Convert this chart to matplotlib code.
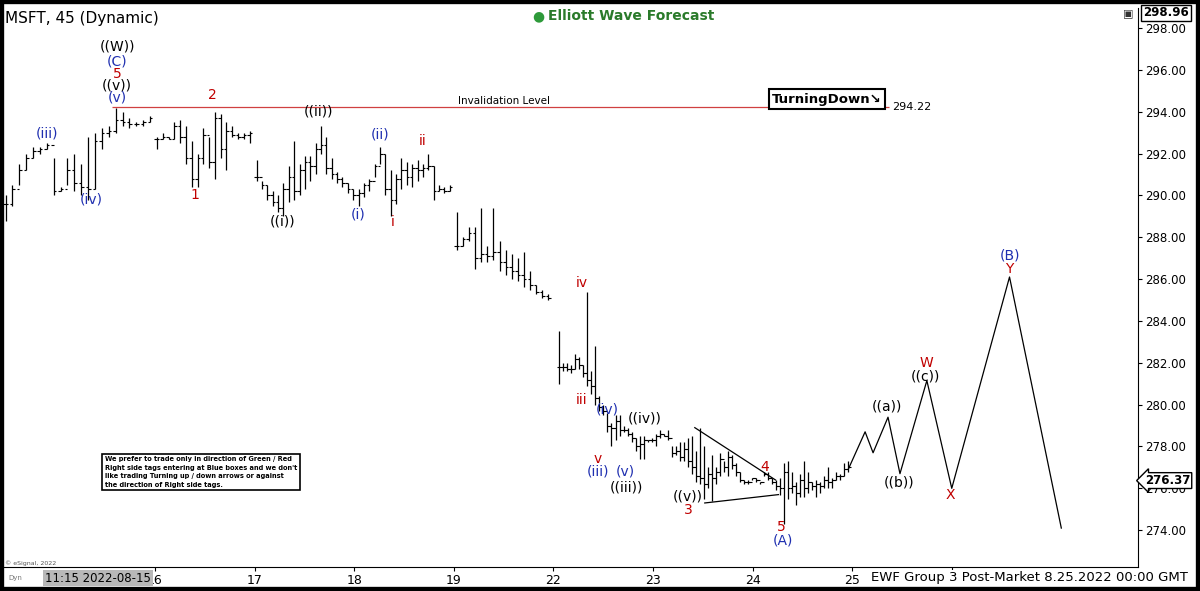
import numpy as np
import matplotlib.pyplot as plt
from matplotlib.patches import Rectangle

# ---- price bars: (low, high, close) per session segment, x in trading-day units (16 Aug = 0)
seg_a = [(288.8, 290.0, 289.6), (289.5, 290.5, 290.3), (290.5, 291.5, 291.2), (291.2, 292.0, 291.8),
         (291.8, 292.3, 292.1), (292.0, 292.3, 292.2), (292.2, 292.5, 292.4), (290.0, 291.8, 290.2),
         (290.2, 290.4, 290.3), (290.5, 291.8, 291.2), (290.2, 292.0, 290.6), (290.0, 291.5, 290.4),
         (289.8, 292.8, 290.3), (290.3, 293.0, 292.6), (292.2, 293.2, 293.0), (292.8, 293.3, 293.1),
         (293.0, 294.2, 293.6), (293.3, 294.0, 293.5), (293.2, 293.7, 293.4), (293.3, 293.5, 293.4),
         (293.3, 293.6, 293.5), (293.5, 293.8, 293.7)]
seg_b = [(292.2, 292.8, 292.7), (292.7, 293.0, 292.8), (292.7, 292.8, 292.7), (292.7, 293.5, 293.3),
         (292.5, 293.6, 292.8), (291.5, 293.3, 291.8), (290.4, 292.6, 290.8), (290.4, 292.0, 291.8),
         (291.5, 293.2, 292.9), (291.3, 292.8, 291.6), (290.8, 294.0, 293.7), (291.8, 293.9, 292.2),
         (291.2, 293.5, 293.1), (292.8, 293.3, 292.9), (292.7, 293.0, 292.8), (292.7, 293.0, 292.9),
         (292.5, 293.1, 293.0)]
seg_c = [(290.7, 291.7, 290.9), (290.3, 290.7, 290.5), (289.8, 290.5, 290.0), (289.5, 290.2, 289.7),
         (289.2, 290.0, 289.4), (289.0, 290.6, 290.3), (289.7, 291.4, 290.9), (289.8, 292.6, 290.2),
         (290.0, 291.5, 291.2), (290.3, 291.9, 291.6), (290.7, 291.9, 291.4), (291.0, 292.5, 292.2),
         (292.0, 293.3, 292.4), (291.0, 292.8, 291.3), (290.8, 291.8, 291.0), (290.6, 291.1, 290.8),
         (290.4, 290.9, 290.6), (290.1, 290.6, 290.3), (289.8, 290.3, 290.0), (289.5, 290.3, 290.1),
         (289.9, 290.6, 290.5), (290.2, 290.8, 290.7), (290.9, 291.5, 291.4), (291.5, 292.3, 292.0),
         (290.0, 292.0, 290.3), (289.0, 291.2, 289.8), (289.6, 291.0, 290.8), (290.3, 291.8, 291.2),
         (290.5, 291.6, 290.9), (290.4, 291.5, 291.3), (290.7, 291.7, 291.2), (290.9, 291.5, 291.3),
         (291.2, 292.0, 291.4), (289.8, 291.4, 290.2), (290.2, 290.5, 290.3), (290.1, 290.4, 290.2),
         (290.2, 290.5, 290.4)]
seg_d = [(287.4, 289.2, 287.6), (287.6, 288.0, 287.9), (287.8, 288.5, 288.2), (286.5, 288.5, 287.0),
         (286.8, 289.4, 287.2), (286.8, 287.6, 287.1), (286.9, 289.4, 287.3), (286.4, 287.8, 286.8),
         (286.2, 287.4, 286.6), (286.0, 287.2, 286.4), (285.9, 287.0, 286.2), (285.6, 287.3, 286.0),
         (285.5, 286.4, 285.7), (285.3, 285.7, 285.4), (285.1, 285.5, 285.2), (285.0, 285.3, 285.1)]
seg_e = [(281.0, 283.5, 281.8), (281.6, 282.0, 281.8), (281.6, 282.0, 281.7), (281.5, 281.9, 281.7),
         (281.7, 282.4, 282.2), (281.7, 282.3, 281.9), (281.3, 281.9, 281.5), (280.9, 285.4, 281.2),
         (280.5, 281.6, 280.9), (280.0, 282.8, 280.3), (279.7, 280.4, 279.9), (279.5, 280.0, 279.7),
         (278.7, 279.6, 279.0), (278.0, 279.1, 278.9), (278.3, 279.5, 279.2), (278.5, 279.5, 278.8),
         (278.7, 279.0, 278.8), (278.5, 278.9, 278.6), (278.2, 278.7, 278.4), (277.8, 278.4, 278.0),
         (277.4, 278.5, 278.1), (277.4, 278.5, 278.3), (278.2, 278.3, 278.3), (278.2, 278.4, 278.3),
         (278.0, 278.6, 278.5), (278.4, 278.8, 278.6), (278.5, 278.6, 278.5), (278.3, 278.8, 278.4),
         (277.5, 278.0, 277.7), (277.6, 278.0, 277.8), (277.3, 278.2, 277.5), (277.3, 278.2, 277.9),
         (277.0, 278.4, 277.3), (276.7, 278.5, 277.0), (276.3, 277.8, 276.6), (276.2, 278.9, 276.5),
         (275.5, 278.0, 276.2), (276.0, 277.0, 276.7), (275.4, 277.6, 276.5), (276.2, 277.0, 276.8),
         (276.6, 277.7, 277.4), (276.8, 277.3, 277.0), (276.6, 277.8, 277.5), (276.9, 277.6, 277.1),
         (276.6, 277.2, 276.8), (276.3, 276.8, 276.4), (276.2, 276.4, 276.3), (276.2, 276.4, 276.3),
         (276.4, 276.5, 276.5), (276.3, 276.5, 276.4), (276.2, 276.3, 276.3), (276.6, 276.8, 276.7),
         (276.4, 276.8, 276.5), (276.2, 276.5, 276.3), (275.9, 276.4, 276.1), (275.7, 276.5, 276.0),
         (274.3, 277.2, 276.8), (275.5, 277.3, 276.0), (275.8, 276.8, 276.1), (275.2, 276.3, 275.8),
         (275.6, 276.7, 276.4), (275.6, 277.3, 276.0), (275.8, 276.8, 276.3), (275.9, 276.3, 276.1),
         (275.6, 276.4, 276.2), (275.8, 276.3, 276.1), (276.0, 276.6, 276.4), (276.0, 277.0, 276.3),
         (276.0, 276.5, 276.4), (276.4, 276.8, 276.6), (276.4, 276.7, 276.6), (276.6, 277.2, 276.9),
         (276.8, 277.3, 277.0)]
segments = [(-1.50, -0.05, seg_a), (0.02, 0.95, seg_b), (1.02, 2.96, seg_c),
            (3.03, 3.95, seg_d), (4.06, 6.96, seg_e)]

# projected path
proj_x = [6.96, 7.13, 7.21, 7.36, 7.48, 7.75, 8.0, 8.58, 9.10]
proj_y = [276.9, 278.7, 277.7, 279.4, 276.7, 281.15, 276.0, 286.1, 274.1]

tri_top = ([5.42, 6.23], [278.9, 276.4])
tri_bot = ([5.52, 6.26], [275.3, 275.7])

invalid_level = 294.22
last_price = 276.37

day_ticks = [0, 1, 2, 3, 4, 5, 6, 7, 8]
day_labels = ['16', '17', '18', '19', '22', '23', '24', '25', '26']
price_ticks = [274, 276, 278, 280, 282, 284, 286, 288, 290, 292, 294, 296, 298]

# wave labels: (text, x, y, colour)
BLUE, RED, BLK = '#1f2fb0', '#c00000', 'black'
wave_labels = [
    ('((W))', -0.38, 297.1, BLK), ('(C)', -0.38, 296.4, BLUE), ('5', -0.38, 295.8, RED),
    ('((v))', -0.38, 295.25, BLK), ('(v)', -0.38, 294.7, BLUE),
    ('(iii)', -1.08, 292.95, BLUE), ('(iv)', -0.64, 289.8, BLUE),
    ('2', 0.58, 294.8, RED), ('1', 0.40, 290.0, RED),
    ('((ii))', 1.64, 294.0, BLK), ('((i))', 1.28, 288.75, BLK),
    ('(ii)', 2.26, 292.9, BLUE), ('(i)', 2.04, 289.1, BLUE),
    ('ii', 2.69, 292.6, RED), ('i', 2.39, 288.75, RED),
    ('iv', 4.29, 285.8, RED), ('iii', 4.28, 280.2, RED), ('(iv)', 4.54, 279.75, BLUE),
    ('v', 4.45, 277.4, RED), ('(iii)', 4.45, 276.8, BLUE), ('(v)', 4.72, 276.8, BLUE),
    ('((iv))', 4.92, 279.35, BLK), ('((iii))', 4.73, 276.05, BLK),
    ('((v))', 5.35, 275.6, BLK), ('3', 5.35, 274.95, RED), ('4', 6.12, 277.0, RED),
    ('5', 6.29, 274.15, RED), ('(A)', 6.30, 273.5, BLUE),
    ('((a))', 7.35, 279.9, BLK), ('((b))', 7.47, 276.3, BLK),
    ('W', 7.75, 282.0, RED), ('((c))', 7.74, 281.35, BLK), ('X', 7.99, 275.7, RED),
    ('(B)', 8.58, 287.15, BLUE), ('Y', 8.58, 286.5, RED),
]

fig = plt.figure(figsize=(12, 5.91), dpi=100)
fig.patch.set_facecolor('white')
W, H = 1200, 591
ax = fig.add_axes([4 / W, 1 - 567 / H, 1134 / W, 559 / H])
ax.set_xlim(-1.516, 9.87)
ax.set_ylim(272.24, 298.956)

for x0, x1, bars in segments:
    xs = np.linspace(x0, x1, len(bars))
    lo = [b[0] for b in bars]
    hi = [b[1] for b in bars]
    cl = [b[2] for b in bars]
    op = [cl[0]] + cl[:-1]
    ax.vlines(xs, lo, hi, color='black', lw=0.9)
    ax.hlines(op, xs - 0.025, xs, color='black', lw=0.8)
    ax.hlines(cl, xs, xs + 0.025, color='black', lw=0.8)

ax.plot(proj_x, proj_y, color='black', lw=0.9)
ax.plot(*tri_top, color='black', lw=0.9)
ax.plot(*tri_bot, color='black', lw=0.9)

ax.hlines(invalid_level, -0.43, 7.37, color='#d04040', lw=0.9)
ax.text(3.5, invalid_level + 0.05, 'Invalidation Level', fontsize=7.5, ha='center', va='bottom')
ax.text(7.40, invalid_level, '294.22', fontsize=8, ha='left', va='center')
ax.text(7.30, 294.6, 'TurningDown\u2198', fontsize=9.5, fontweight='bold', ha='right', va='center',
        bbox=dict(boxstyle='square,pad=0.25', fc='white', ec='black', lw=1.5))

for t, x, y, c in wave_labels:
    ax.text(x, y, t, color=c, fontsize=10, ha='center', va='center')

ax.yaxis.tick_right()
ax.set_yticks(price_ticks)
ax.set_yticklabels([f'{p:.2f}' for p in price_ticks], fontsize=8.5)
ax.set_xticks(day_ticks)
ax.set_xticklabels(day_labels, fontsize=9)
ax.tick_params(axis='both', length=3, direction='out', pad=2)
for s in ['top', 'left']:
    ax.spines[s].set_visible(False)

# current price tag and top-right price
ax.annotate(f'{last_price:.2f}', xy=(1.0, last_price), xycoords=('axes fraction', 'data'),
            xytext=(5, 0), textcoords='offset points', fontsize=8.5, fontweight='bold',
            ha='left', va='center', zorder=10, annotation_clip=False,
            bbox=dict(boxstyle='larrow,pad=0.12', fc='white', ec='black', lw=1))
fig.text(1143 / W, 1 - 13 / H, '298.96', fontsize=8.5, fontweight='bold', va='center',
         bbox=dict(boxstyle='square,pad=0.15', fc='white', ec='black', lw=1))
fig.text(1128 / W, 1 - 14 / H, '\u25a3', fontsize=8, ha='center', va='center', color='#333333')

fig.text(5 / W, 1 - 18 / H, 'MSFT, 45 (Dynamic)', fontsize=11, va='center')
fig.text(548 / W, 1 - 16 / H, 'Elliott Wave Forecast', fontsize=10, fontweight='bold',
         color='#2a7a2a', ha='left', va='center')
fig.text(538 / W, 1 - 16 / H, '\u25cf', fontsize=10, color='#2e9a3a', ha='center', va='center')

note = ('We prefer to trade only in direction of Green / Red\n'
        'Right side tags entering at Blue boxes and we don\'t\n'
        'like trading Turning up / down arrows or against\n'
        'the direction of Right side tags.')
fig.text(105 / W, 1 - 472 / H, note, fontsize=4.8, fontweight='bold', va='center', linespacing=1.5,
         bbox=dict(boxstyle='square,pad=0.4', fc='white', ec='black', lw=1.2))
fig.text(5 / W, 1 - 563 / H, '\u00a9 eSignal, 2022', fontsize=4.5, color='#555555', va='center')

fig.text(45 / W, 1 - 578 / H, '11:15 2022-08-15', fontsize=8.5, va='center', zorder=10,
         bbox=dict(boxstyle='square,pad=0.15', fc='#b8b8b8', ec='none'))
fig.text(1188 / W, 1 - 578 / H, 'EWF Group 3 Post-Market 8.25.2022 00:00 GMT', fontsize=9.5,
         ha='right', va='center', zorder=10,
         bbox=dict(boxstyle='square,pad=0.1', fc='white', ec='none'))
fig.text(8 / W, 1 - 578 / H, 'Dyn', fontsize=5, color='#777777', va='center')

# black frame around the whole image
fig.patches.append(Rectangle((0, 0), 1, 1, transform=fig.transFigure, fill=False,
                             ec='black', lw=6, zorder=20))

fig.savefig('out.png', dpi=100)
